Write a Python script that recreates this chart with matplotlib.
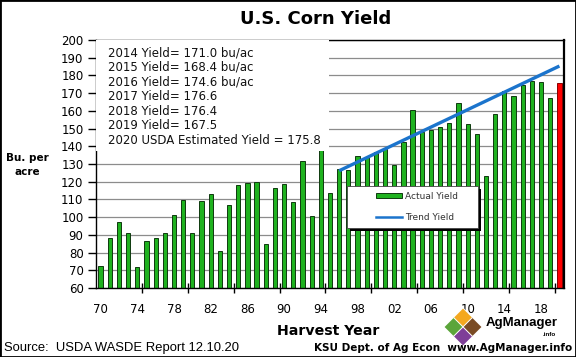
import matplotlib
matplotlib.use("Agg")
import numpy as np
import matplotlib.pyplot as plt
from matplotlib.patches import Rectangle, Polygon, Patch
from matplotlib.lines import Line2D

# ---------------- data ----------------
actual_years = list(range(1970, 2020))
actual_yield = [72.4, 88.1, 97.0, 91.3, 71.9, 86.4, 88.0, 90.8, 101.0, 109.5,
                91.0, 108.9, 113.2, 81.1, 106.7, 118.0, 119.4, 119.8, 84.6, 116.3,
                118.5, 108.6, 131.5, 100.7, 138.6, 113.5, 127.1, 126.7, 134.4, 133.8,
                136.9, 138.2, 129.3, 142.2, 160.3, 147.9, 149.1, 150.7, 153.3, 164.4,
                152.6, 146.8, 123.1, 158.1, 171.0, 168.4, 174.6, 176.6, 176.4, 167.5]
estimate_years = [2020]
estimate_yield = [175.8]
trend_years = [1996, 2020]
trend_yield = [126.2, 185.3]

label_years = [1970, 1974, 1978, 1982, 1986, 1990, 1994, 1998, 2002, 2006, 2010, 2014, 2018]
label_text = ["70", "74", "78", "82", "86", "90", "94", "98", "02", "06", "10", "14", "18"]
y_ticks = list(range(60, 201, 10))

annotation_lines = [
    "2014 Yield= 171.0 bu/ac",
    "2015 Yield= 168.4 bu/ac",
    "2016 Yield= 174.6 bu/ac",
    "2017 Yield= 176.6",
    "2018 Yield= 176.4",
    "2019 Yield= 167.5",
    "2020 USDA Estimated Yield = 175.8",
]

# ---------------- figure ----------------
W, H = 576, 357
fig = plt.figure(figsize=(W / 100, H / 100), dpi=100)
fig.patch.set_facecolor("white")

def fx(x):
    return x / W

def fy(y):
    return 1 - y / H

ax_l, ax_r, ax_t, ax_b = 96, 564, 40, 288
ax = fig.add_axes([fx(ax_l), fy(ax_b), (ax_r - ax_l) / W, (ax_b - ax_t) / H])

green = "#1fb21f"
ax.bar(actual_years, [v - 60 for v in actual_yield], bottom=60, width=0.46,
       color=green, edgecolor="#0f3a0f", linewidth=0.7, zorder=2, label="Actual Yield")
ax.bar(estimate_years, [v - 60 for v in estimate_yield], bottom=60, width=0.46,
       color="#ff0000", edgecolor="#8a0000", linewidth=0.7, zorder=2)
ax.plot(trend_years, trend_yield, color="#1b74cc", linewidth=2.4,
        solid_capstyle="butt", zorder=4, label="Trend Yield")

ax.set_xlim(1969.5, 2020.5)
ax.set_ylim(60, 200)
ax.set_yticks(y_ticks)
ax.yaxis.grid(True, color="#8c8c8c", linewidth=0.9)
ax.set_axisbelow(True)

ax.set_xticks(label_years)
ax.set_xticklabels(label_text)
ax.set_xticks(np.arange(1974.5, 2020, 5), minor=True)
ax.tick_params(axis="x", which="major", length=0, pad=11, labelsize=8.5)
ax.tick_params(axis="x", which="minor", direction="inout", length=7, width=1)
ax.tick_params(axis="y", direction="out", length=6, width=1, pad=3, labelsize=8.5)

for s in ["left", "bottom", "top"]:
    ax.spines[s].set_linewidth(1.0)
    ax.spines[s].set_color("black")
ax.spines["right"].set_linewidth(1.6)
ax.spines["right"].set_color("black")

# white box behind the annotation lines
box_r = (329 - ax_l) / (ax_r - ax_l)
box_b = (ax_b - 151) / (ax_b - ax_t)
ax.add_patch(Rectangle((0, box_b), box_r, 1 - box_b, transform=ax.transAxes,
                       facecolor="white", edgecolor="none", zorder=3))
y0 = 1 - (52.7 - ax_t) / (ax_b - ax_t)
dy = 14.6 / (ax_b - ax_t)
x0 = (107.7 - ax_l) / (ax_r - ax_l)
for i, line in enumerate(annotation_lines):
    ax.text(x0, y0 - i * dy, line, transform=ax.transAxes, ha="left", va="center",
            fontsize=8.5, color="#111111", zorder=5)

# legend box with shadow
lx0 = (346.7 - ax_l) / (ax_r - ax_l)
lx1 = (478.3 - ax_l) / (ax_r - ax_l)
ly1 = (ax_b - 186) / (ax_b - ax_t)
ly0 = (ax_b - 228.3) / (ax_b - ax_t)
sx = 3 / (ax_r - ax_l)
sy = 3 / (ax_b - ax_t)
ax.add_patch(Rectangle((lx0 + sx, ly0 - sy), lx1 - lx0, ly1 - ly0, transform=ax.transAxes,
                       facecolor="black", edgecolor="none", zorder=5))
ax.add_patch(Rectangle((lx0, ly0), lx1 - lx0, ly1 - ly0, transform=ax.transAxes,
                       facecolor="white", edgecolor="#444444", linewidth=0.6, zorder=6))
handles = [Patch(facecolor=green, edgecolor="#0f3a0f", linewidth=0.7),
           Line2D([0], [0], color="#1b74cc", linewidth=1.8)]
leg = ax.legend(handles, ["Actual Yield", "Trend Yield"], loc="center",
                bbox_to_anchor=((lx0 + lx1) / 2 + 0.01, (ly0 + ly1) / 2),
                bbox_transform=ax.transAxes, frameon=False, fontsize=6.5,
                handlelength=2.9, handleheight=0.5, handletextpad=0.3,
                labelspacing=1.35, borderpad=0)
leg.set_zorder(7)
for t in leg.get_texts():
    t.set_color("#333333")

# titles / labels
fig.text(fx(316), fy(19), "U.S. Corn Yield", ha="center", va="center",
         fontsize=13, fontweight="bold")
fig.text(fx(27), fy(165), "Bu. per\nacre", ha="center", va="center",
         fontsize=7.5, fontweight="bold", linespacing=1.5)
fig.text(fx(328), fy(331), "Harvest Year", ha="center", va="center",
         fontsize=10.2, fontweight="bold")
fig.text(fx(4), fy(348), "Source:  USDA WASDE Report 12.10.20", ha="left", va="center",
         fontsize=9.4, family=["Liberation Sans"])
fig.text(fx(572), fy(348), "KSU Dept. of Ag Econ  www.AgManager.info", ha="right",
         va="center", fontsize=7.5, fontweight="bold")

# logo
def diamond(cx, cy, r, color):
    pts = [(fx(cx), fy(cy - r)), (fx(cx + r), fy(cy)), (fx(cx), fy(cy + r)), (fx(cx - r), fy(cy))]
    fig.patches.append(Polygon(pts, closed=True, transform=fig.transFigure,
                               facecolor=color, edgecolor="white", linewidth=0.6))

diamond(463, 317.5, 9.5, "#f4a81f")
diamond(453.5, 327, 9.5, "#5ba53a")
diamond(472.5, 327, 9.5, "#7a4b24")
diamond(463, 336.5, 9.5, "#7e3f98")
fig.text(fx(486), fy(323), "AgManager", ha="left", va="center", fontsize=9.5,
         fontweight="bold", family=["Liberation Sans"])
fig.text(fx(556), fy(335), ".info", ha="right", va="center", fontsize=4.5,
         fontweight="bold", family=["Liberation Sans"])

# figure border
fig.patches.append(Rectangle((0, 0), 1, 1, transform=fig.transFigure, fill=False,
                             edgecolor="black", linewidth=2))

fig.savefig("out.png", dpi=100)
